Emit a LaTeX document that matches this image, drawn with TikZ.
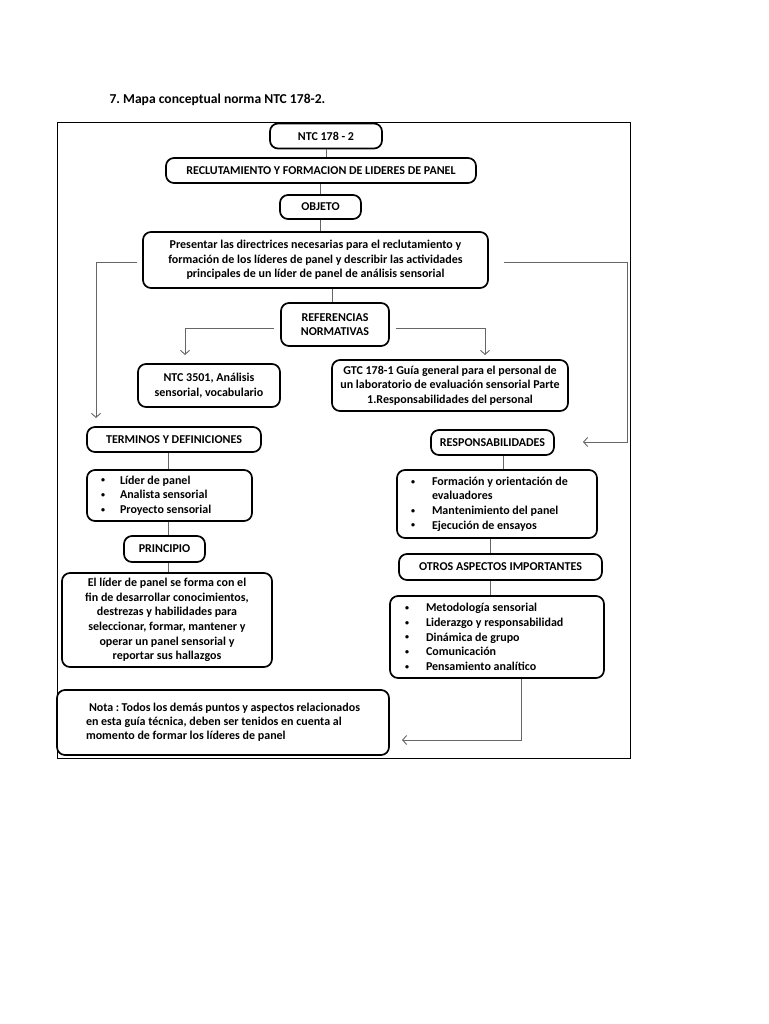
\documentclass[tikz,border=0pt]{standalone}
\usepackage{fontspec}
\setmainfont{Carlito}
\usetikzlibrary{arrows.meta}
\newcommand{\bul}[2][20pt]{\makebox[#1][l]{\hspace*{1pt}\raisebox{1.2pt}{\fontsize{8}{8}\selectfont\textbullet}}#2}
\frenchspacing
\begin{document}
\begin{tikzpicture}[x=1pt,y=-1pt,
  box/.style={draw=black, line width=1.7pt, rounded corners=8pt, inner sep=2pt,
    font=\bfseries\fontsize{12}{14.6}\selectfont, align=center},
  conn/.style={draw=black!60, line width=0.9pt},
  arr/.style={conn, -{Straight Barb[length=4pt,width=9pt]}},
]
\useasboundingbox (0,0) rectangle (768,1024);
\fill[white] (0,0) rectangle (768,1024);
\node[anchor=west, font=\bfseries\fontsize{13.6}{15}\selectfont] (title) at (106,100) {7. Mapa conceptual norma NTC 178-2.};
\draw[line width=0.8pt] (57,122) rectangle (630,758);

\node[box, minimum width=112pt, minimum height=25pt] (ntc) at (326,136) {NTC 178 - 2};
\node[box, minimum width=310pt, minimum height=25pt] (rec) at (321,170.5) {RECLUTAMIENTO Y FORMACION DE LIDERES DE PANEL};
\node[box, minimum width=81pt, minimum height=24pt] (obj) at (320.5,207) {OBJETO};
\node[box, minimum width=345pt, minimum height=56pt] (pres) at (315.5,260) {Presentar las directrices necesarias para el reclutamiento y\\formación de los líderes de panel y describir las actividades\\principales de un líder de panel de análisis sensorial};
\node[box, minimum width=108pt, minimum height=43pt] (ref) at (335,324.5) {REFERENCIAS\\NORMATIVAS};
\node[box, minimum width=142pt, minimum height=43pt] (n3501) at (209,385.5) {NTC 3501, Análisis\\sensorial, vocabulario};
\node[box, minimum width=236pt, minimum height=51pt] (gtc) at (450,385.5) {GTC 178-1 Guía general para el personal de\\un laboratorio de evaluación sensorial Parte\\1.Responsabilidades del personal};
\node[box, minimum width=174pt, minimum height=25pt] (term) at (174,439.5) {TERMINOS Y DEFINICIONES};
\node[box, minimum width=123pt, minimum height=25pt] (resp) at (492.5,442.5) {RESPONSABILIDADES};
\node[box, minimum width=165pt, minimum height=51pt, text width=139pt, inner xsep=13pt, align=flush left] (l1) at (169.5,495.5)
  {\bul{Líder de panel}\\\bul{Analista sensorial}\\\bul{Proyecto sensorial}};
\node[box, minimum width=81pt, minimum height=26pt] (princ) at (164.5,549) {PRINCIPIO};
\node[box, minimum width=210pt, minimum height=94pt] (elider) at (167,620) {El líder de panel se forma con el\\fin de desarrollar conocimientos,\\destrezas y habilidades para\\seleccionar, formar, mantener y\\operar un panel sensorial y\\reportar sus hallazgos};
\node[box, minimum width=200pt, minimum height=68pt, text width=174pt, inner xsep=13pt, align=flush left] (l2) at (497,504)
  {\bul[22pt]{Formación y orientación de}\\\hspace*{22pt}evaluadores\\\bul[22pt]{Mantenimiento del panel}\\\bul[22pt]{Ejecución de ensayos}};
\node[box, minimum width=203pt, minimum height=26pt] (otros) at (500.5,567) {OTROS ASPECTOS IMPORTANTES};
\node[box, minimum width=214pt, minimum height=82pt, text width=186pt, inner xsep=14pt, align=flush left] (l3) at (497,637)
  {\bul[22pt]{Metodología sensorial}\\\bul[22pt]{Liderazgo y responsabilidad}\\\bul[22pt]{Dinámica de grupo}\\\bul[22pt]{Comunicación}\\\bul[22pt]{Pensamiento analítico}};
\node[box, minimum width=332pt, minimum height=65pt, text width=274pt, inner xsep=29pt, align=flush left,
  font=\bfseries\fontsize{12}{14}\selectfont] (nota) at (223,722.5)
  {\hspace*{3pt}Nota : Todos los demás puntos y aspectos relacionados\\en esta guía técnica, deben ser tenidos en cuenta al\\momento de formar los líderes de panel\\[8pt]};

\coordinate (c1) at (185,355);
\coordinate (c2) at (485,355);
\coordinate (c3) at (96,418);
\coordinate (c4) at (627,442);
\coordinate (c5) at (583,442);
\coordinate (c6) at (402,740);

\draw[conn] (ntc.south) -- (ntc.south |- rec.north);
\draw[conn] (obj.north) -- (obj.north |- rec.south);
\draw[conn] (obj.south) -- (obj.south |- pres.north);
\draw[conn] ([xshift=-3pt]ref.north) -- ([xshift=-3pt]ref.north |- pres.south);
\draw[arr, shorten <=6pt] ([yshift=-4pt]ref.west) -| (c1);
\draw[arr, shorten <=6pt] ([yshift=-4pt]ref.east) -| (c2);
\draw[arr, shorten <=5pt] ([yshift=-2pt]pres.west) -| (c3);
\draw[arr] ([xshift=15pt,yshift=-2pt]pres.east) -| (c4) -- (c5);
\draw[conn] ([xshift=-1.5pt]l1.north) -- ([xshift=-1.5pt]l1.north |- term.south);
\draw[conn] ([xshift=-1.5pt]l1.south) -- ([xshift=-1.5pt]l1.south |- princ.north);
\draw[conn] ([xshift=3.5pt]princ.south) -- ([xshift=3.5pt]princ.south |- elider.north);
\draw[conn] ([xshift=10.5pt]resp.south) -- ([xshift=10.5pt]resp.south |- l2.north);
\draw[conn] ([xshift=-7pt]l2.south) -- ([xshift=-7pt]l2.south |- otros.north);
\draw[conn] ([xshift=-7pt]l3.north) -- ([xshift=-7pt]l3.north |- otros.south);
\draw[arr] ([xshift=24pt]l3.south) |- (c6);
\end{tikzpicture}
\end{document}
